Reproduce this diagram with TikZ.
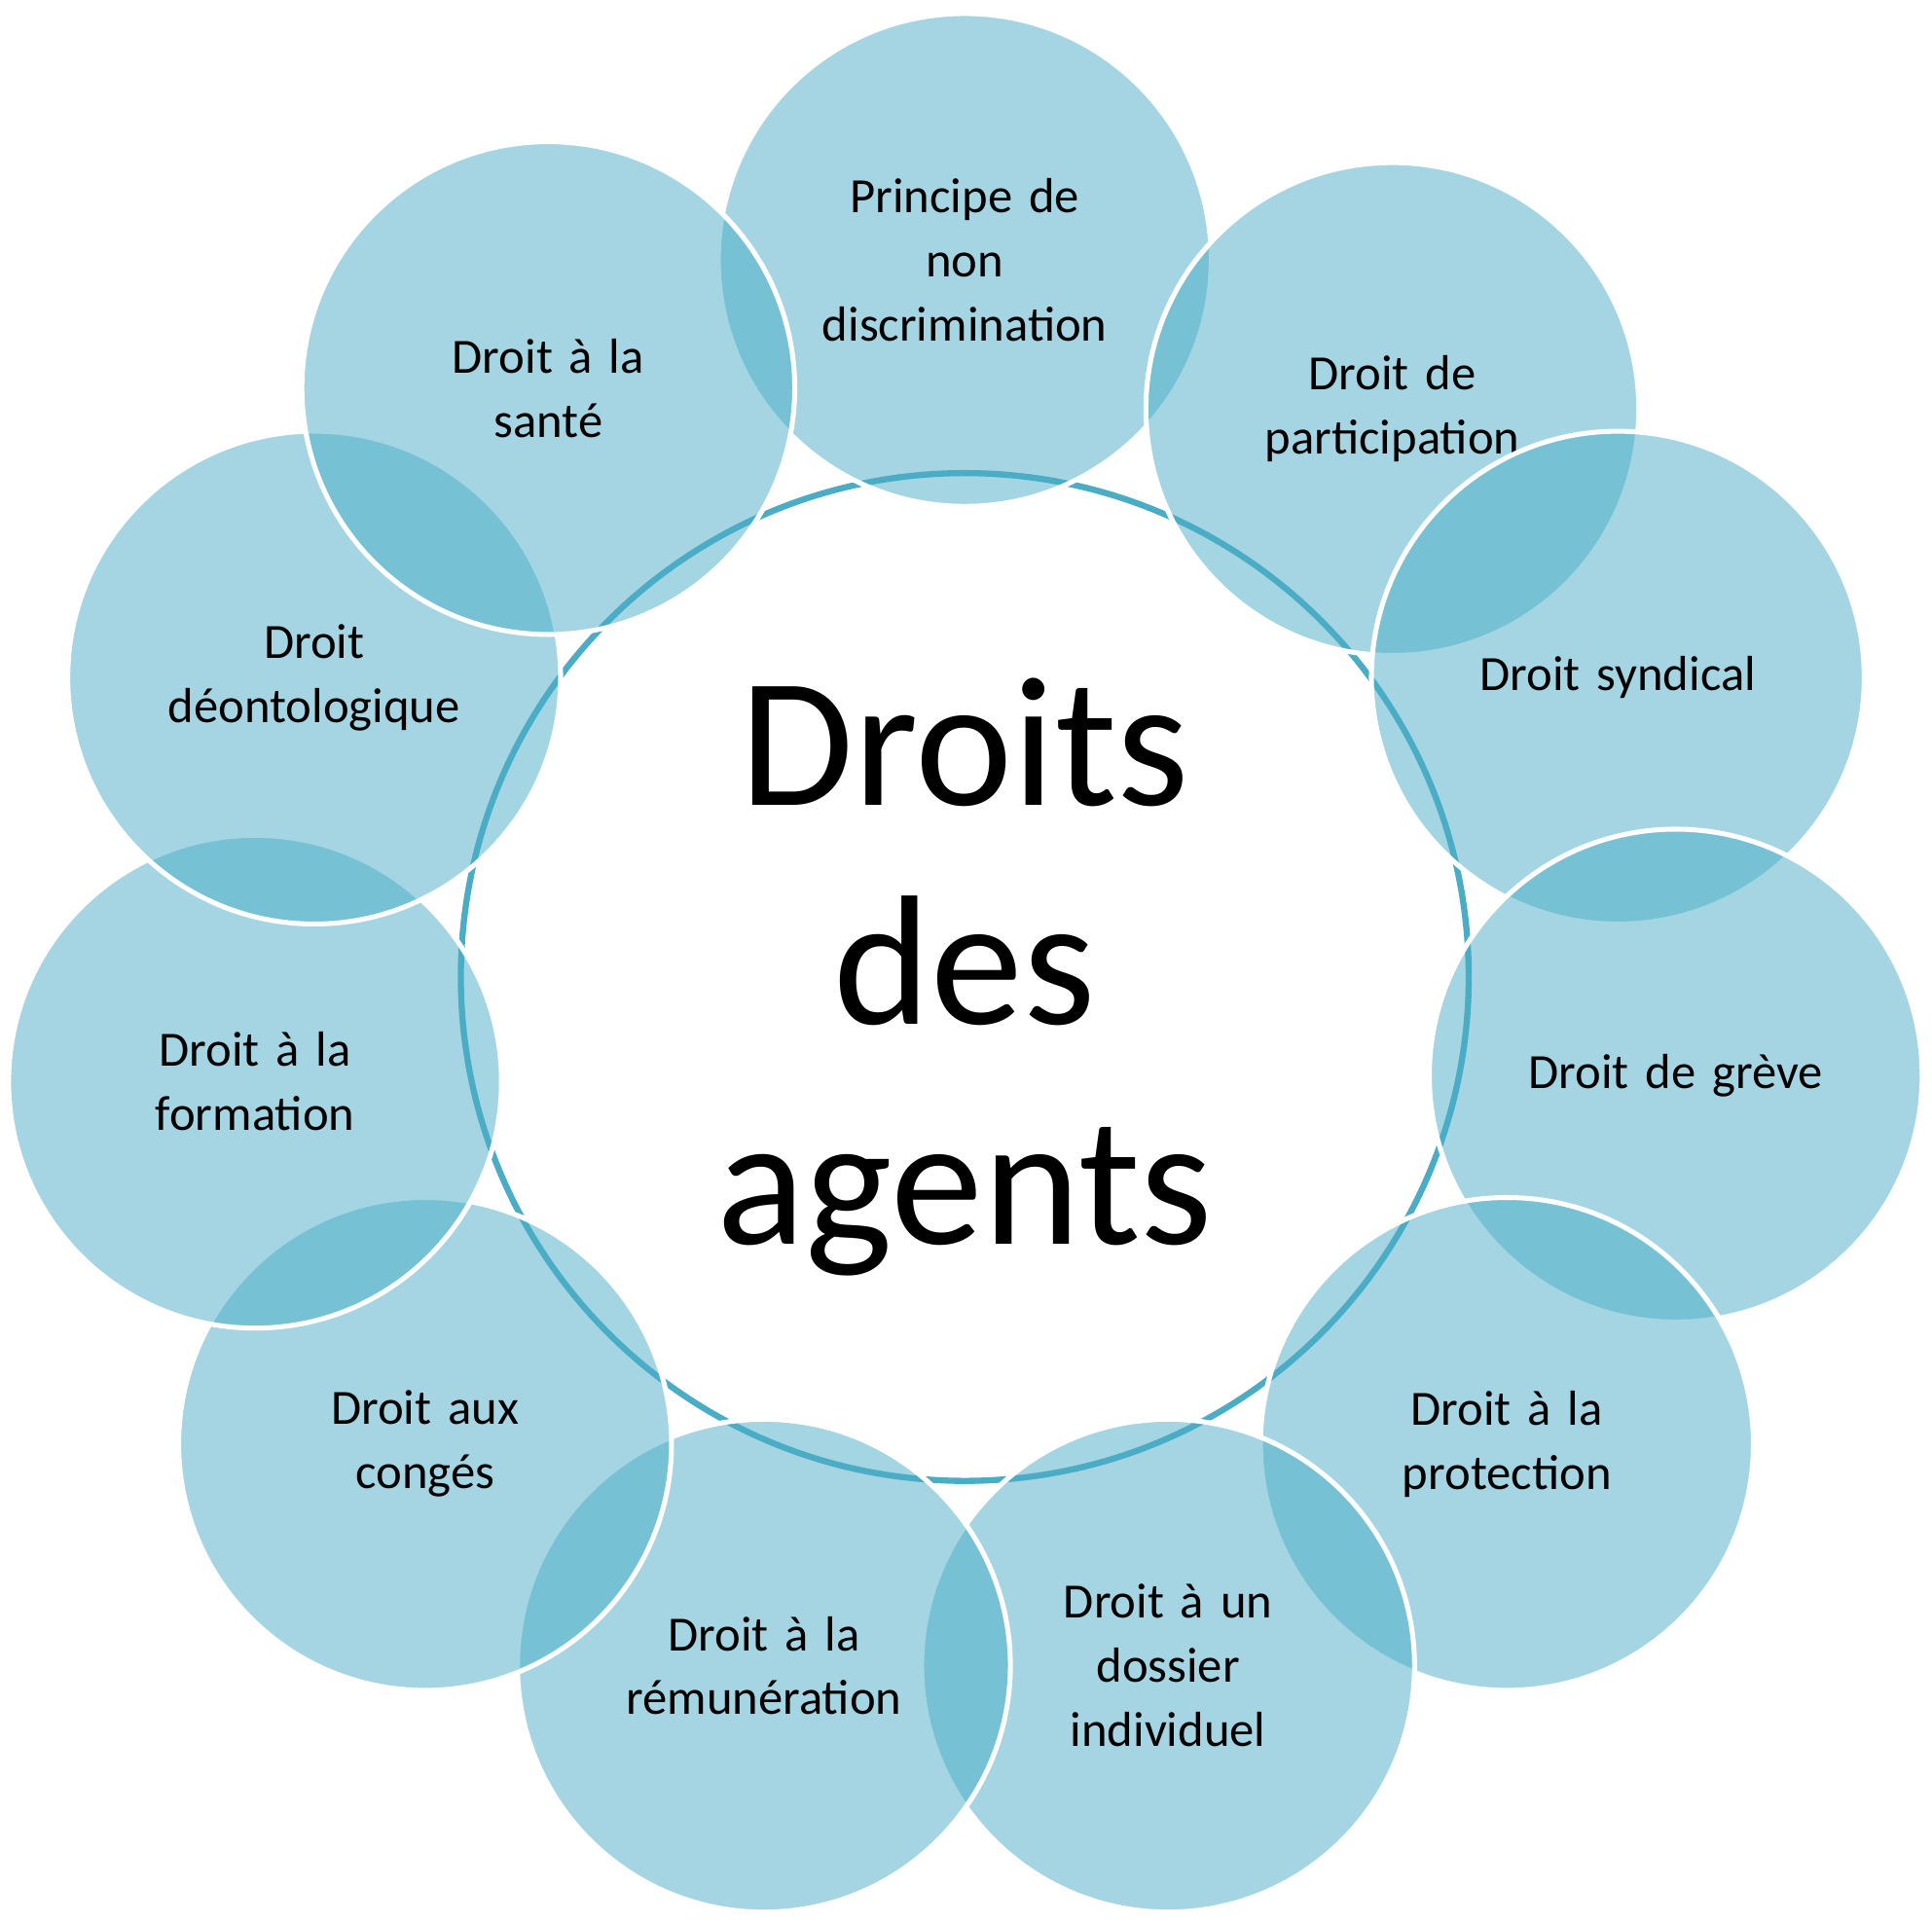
\documentclass[tikz,border=0pt]{standalone}
\usepackage{fontspec}
\setmainfont{Carlito}
\definecolor{acc}{HTML}{4BACC6}
\begin{document}
\begin{tikzpicture}[x=1pt,y=-1pt,
  sat/.style={circle,minimum size=400pt,inner sep=0pt,fill=acc,fill opacity=0.5,draw=white,draw opacity=1,line width=4pt,text opacity=1,align=center,font=\fontsize{40}{52}\selectfont,text width=300pt}]
\useasboundingbox (0,0) rectangle (1568,1561);
\node[circle,minimum size=818pt,draw=acc,line width=5pt,fill=white,align=center,font=\fontsize{150}{178}\selectfont] (c) at (783,793) {Droits\\des\\agents};
\node[sat] (n1) at (783,211) {Principe de\\non\\discrimination};
\node[sat] (n2) at (1130,332) {Droit de\\participation};
\node[sat] (n3) at (1313,550) {Droit syndical};
\node[sat] (n4) at (1360,873) {Droit de grève};
\node[sat] (n5) at (1223,1172) {Droit à la\\protection};
\node[sat] (n6) at (948,1352) {Droit à un\\dossier\\individuel};
\node[sat] (n7) at (620,1352) {Droit à la\\rémunération};
\node[sat] (n8) at (345,1172) {Droit aux\\congés};
\node[sat] (n9) at (207,878) {Droit à la\\formation};
\node[sat] (n10) at (255,550) {Droit\\déontologique};
\node[sat] (n11) at (445,315) {Droit à la\\santé};
\end{tikzpicture}
\end{document}
